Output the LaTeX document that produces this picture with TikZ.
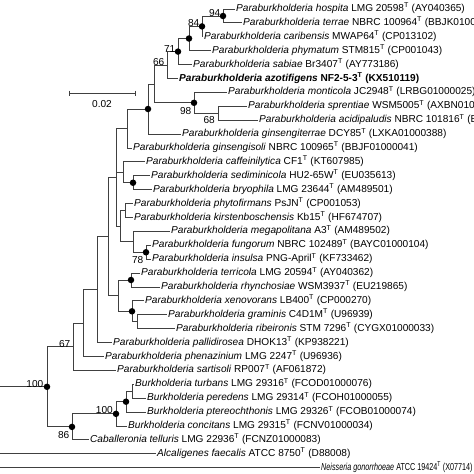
\documentclass[tikz,border=0pt]{standalone}
\usepackage{graphicx}
\usepackage{fontspec}
\setmainfont{Liberation Sans}
\newcommand{\typeT}{\textsuperscript{T}}
\begin{document}
\begin{tikzpicture}[x=1pt,y=-1pt,
  br/.style={draw=black!75,line width=0.9pt},
  dotn/.style={circle,fill=black,inner sep=0pt,minimum size=6.5pt},
  lf/.style={anchor=west,inner sep=1pt,text height=7.3pt,text depth=2.2pt,font=\fontsize{10.1}{12}\selectfont},
  bs/.style={inner sep=0pt,font=\fontsize{10.1}{12}\selectfont}]
\useasboundingbox (0,0) rectangle (474,474);
% internal nodes
\coordinate (n94) at (223,16);
\coordinate (n84) at (202,26.4);
\coordinate (n189) at (189,38.5);
\coordinate (n71) at (178,51.6);
\coordinate (n66) at (167,65);
\coordinate (n68) at (218,113.2);
\coordinate (n98) at (194,102.8);
\coordinate (nP) at (154,84);
\coordinate (nQ) at (148,109);
\coordinate (nR) at (127,128.5);
\coordinate (nH) at (133,182.75);
\coordinate (nG) at (123,172.3);
\coordinate (nU) at (125,210.5);
\coordinate (nX) at (146,252.25);
\coordinate (nW) at (133,241.8);
\coordinate (nT) at (120,226);
\coordinate (nS) at (116,177.25);
\coordinate (nY) at (131,280);
\coordinate (nAA) at (137,321.75);
\coordinate (nZ) at (132,311.3);
\coordinate (nF) at (118,295.7);
\coordinate (nE) at (108,236.5);
\coordinate (nD) at (97,289.5);
\coordinate (nC) at (83,323);
\coordinate (n67) at (73,346.7);
\coordinate (nB) at (132,391.25);
\coordinate (nA) at (126,401.7);
\coordinate (n100b) at (116,413.85);
\coordinate (n86) at (72,426.9);
\coordinate (n100) at (47,386.8);
\coordinate (root) at (0,386.8);
\coordinate (rootA) at (0,453.8);
\coordinate (rootN) at (0,467.7);
% leaves
\node[lf] (hospita) at (235,9.0) {\textit{Paraburkholderia hospita} LMG 20598\typeT{} (AY040365)};
\node[lf] (terrae) at (242,22.9) {\textit{Paraburkholderia terrae} NBRC 100964\typeT{} (BBJK01000001)};
\node[lf] (caribensis) at (203,36.8) {\textit{Paraburkholderia caribensis} MWAP64\typeT{} (CP013102)};
\node[lf] (phymatum) at (211,50.7) {\textit{Paraburkholderia phymatum} STM815\typeT{} (CP001043)};
\node[lf] (sabiae) at (192,64.6) {\textit{Paraburkholderia sabiae} Br3407\typeT{} (AY773186)};
\node[lf] (azotifigens) at (178,78.5) {\bfseries\textit{Paraburkholderia azotifigens} NF2-5-3\typeT{} (KX510119)};
\node[lf] (monticola) at (227,92.4) {\textit{Paraburkholderia monticola} JC2948\typeT{} (LRBG01000025)};
\node[lf] (sprentiae) at (247,106.3) {\textit{Paraburkholderia sprentiae} WSM5005\typeT{} (AXBN01000001)};
\node[lf] (acidipaludis) at (258,120.2) {\textit{Paraburkholderia acidipaludis} NBRC 101816\typeT{} (BBJK01000001)};
\node[lf] (ginsengiterrae) at (181,134.1) {\textit{Paraburkholderia ginsengiterrae} DCY85\typeT{} (LXKA01000388)};
\node[lf] (ginsengisoli) at (132,148.0) {\textit{Paraburkholderia ginsengisoli} NBRC 100965\typeT{} (BBJF01000041)};
\node[lf] (caffeinilytica) at (145,161.9) {\textit{Paraburkholderia caffeinilytica} CF1\typeT{} (KT607985)};
\node[lf] (sediminicola) at (150,175.8) {\textit{Paraburkholderia sediminicola} HU2-65W\typeT{} (EU035613)};
\node[lf] (bryophila) at (152,189.7) {\textit{Paraburkholderia bryophila} LMG 23644\typeT{} (AM489501)};
\node[lf] (phytofirmans) at (133,203.6) {\textit{Paraburkholderia phytofirmans} PsJN\typeT{} (CP001053)};
\node[lf] (kirstenboschensis) at (133,217.5) {\textit{Paraburkholderia kirstenboschensis} Kb15\typeT{} (HF674707)};
\node[lf] (megapolitana) at (170,231.4) {\textit{Paraburkholderia megapolitana} A3\typeT{} (AM489502)};
\node[lf] (fungorum) at (151,245.3) {\textit{Paraburkholderia fungorum} NBRC 102489\typeT{} (BAYC01000104)};
\node[lf] (insulsa) at (151,259.2) {\textit{Paraburkholderia insulsa} PNG-April\typeT{} (KF733462)};
\node[lf] (terricola) at (140,273.1) {\textit{Paraburkholderia terricola} LMG 20594\typeT{} (AY040362)};
\node[lf] (rhynchosiae) at (160,287.0) {\textit{Paraburkholderia rhynchosiae} WSM3937\typeT{} (EU219865)};
\node[lf] (xenovorans) at (144,300.9) {\textit{Paraburkholderia xenovorans} LB400\typeT{} (CP000270)};
\node[lf] (graminis) at (167,314.8) {\textit{Paraburkholderia graminis} C4D1M\typeT{} (U96939)};
\node[lf] (ribeironis) at (175,328.7) {\textit{Paraburkholderia ribeironis} STM 7296\typeT{} (CYGX01000033)};
\node[lf] (pallidirosea) at (112,342.6) {\textit{Paraburkholderia pallidirosea} DHOK13\typeT{} (KP938221)};
\node[lf] (phenazinium) at (104,356.5) {\textit{Paraburkholderia phenazinium} LMG 2247\typeT{} (U96936)};
\node[lf] (sartisoli) at (116,370.4) {\textit{Paraburkholderia sartisoli} RP007\typeT{} (AF061872)};
\node[lf] (turbans) at (134,384.3) {\textit{Burkholderia turbans} LMG 29316\typeT{} (FCOD01000076)};
\node[lf] (peredens) at (146,398.2) {\textit{Burkholderia peredens} LMG 29314\typeT{} (FCOH01000055)};
\node[lf] (ptereochthonis) at (146,412.1) {\textit{Burkholderia ptereochthonis} LMG 29326\typeT{} (FCOB01000074)};
\node[lf] (concitans) at (127,426.0) {\textit{Burkholderia concitans} LMG 29315\typeT{} (FCNV01000034)};
\node[lf] (telluris) at (89,439.9) {\textit{Caballeronia telluris} LMG 22936\typeT{} (FCNZ01000083)};
\node[lf] (alcaligenes) at (156,453.8) {\textit{Alcaligenes faecalis} ATCC 8750\typeT{} (D88008)};
\node[lf] (neisseria) at (320,467.7) {\scalebox{0.715}[1]{\textit{Neisseria gonorrhoeae} ATCC 19424\typeT{} (X07714)}};
% branches
\draw[br] (n94) |- (hospita); \draw[br] (n94) |- (terrae);
\draw[br] (n84) |- (n94); \draw[br] (n84) |- (caribensis);
\draw[br] (n189) |- (n84); \draw[br] (n189) |- (phymatum);
\draw[br] (n71) |- (n189); \draw[br] (n71) |- (sabiae);
\draw[br] (n66) |- (n71); \draw[br] (n66) |- (azotifigens);
\draw[br] (n68) |- (sprentiae); \draw[br] (n68) |- (acidipaludis);
\draw[br] (n98) |- (monticola); \draw[br] (n98) |- (n68);
\draw[br] (nP) |- (n66); \draw[br] (nP) |- (n98);
\draw[br] (nQ) |- (nP); \draw[br] (nQ) |- (ginsengiterrae);
\draw[br] (nR) |- (nQ); \draw[br] (nR) |- (ginsengisoli);
\draw[br] (nH) |- (sediminicola); \draw[br] (nH) |- (bryophila);
\draw[br] (nG) |- (caffeinilytica); \draw[br] (nG) |- (nH);
\draw[br] (nU) |- (phytofirmans); \draw[br] (nU) |- (kirstenboschensis);
\draw[br] (nX) |- (fungorum); \draw[br] (nX) |- (insulsa);
\draw[br] (nW) |- (megapolitana); \draw[br] (nW) |- (nX);
\draw[br] (nT) |- (nU); \draw[br] (nT) |- (nW);
\draw[br] (nS) |- (nR); \draw[br] (nS) |- (nG); \draw[br] (nS) |- (nT);
\draw[br] (nY) |- (terricola); \draw[br] (nY) |- (rhynchosiae);
\draw[br] (nAA) |- (graminis); \draw[br] (nAA) |- (ribeironis);
\draw[br] (nZ) |- (xenovorans); \draw[br] (nZ) |- (nAA);
\draw[br] (nF) |- (nY); \draw[br] (nF) |- (nZ);
\draw[br] (nE) |- (nS); \draw[br] (nE) |- (nF);
\draw[br] (nD) |- (nE); \draw[br] (nD) |- (pallidirosea);
\draw[br] (nC) |- (nD); \draw[br] (nC) |- (phenazinium);
\draw[br] (n67) |- (nC); \draw[br] (n67) |- (sartisoli);
\draw[br] (nB) |- (turbans); \draw[br] (nB) |- (peredens);
\draw[br] (nA) |- (nB); \draw[br] (nA) |- (ptereochthonis);
\draw[br] (n100b) |- (nA); \draw[br] (n100b) |- (concitans);
\draw[br] (n86) |- (n100b); \draw[br] (n86) |- (telluris);
\draw[br] (n100) |- (n67); \draw[br] (n100) |- (n86);
\draw[br] (root) -- (n100);
\draw[br] (rootA) -- (alcaligenes);
\draw[br] (rootN) -- (neisseria);
% support dots
\foreach \n in {n94,n84,n189,n71,n98,nQ,nH,nX,nY,nZ,nA,n100b,n86,n100}
  \node[dotn] (dot-\n) at (\n) {};
% bootstrap values
\node[bs,anchor=base east] (b94) at (220.5,16.5) {94};
\node[bs,anchor=base east] (b84) at (199.5,26.9) {84};
\node[bs,anchor=base east] (b71) at (175.5,52.1) {71};
\node[bs,anchor=base east] (b66) at (164.5,65.5) {66};
\node[bs,anchor=base east] (b98) at (191.5,114.6) {98};
\node[bs,anchor=base east] (b68) at (215,123.8) {68};
\node[bs,anchor=base east] (b78) at (143.5,263.6) {78};
\node[bs,anchor=base east] (b67) at (70.5,347) {67};
\node[bs,anchor=base east] (b100a) at (43.5,387.3) {100};
\node[bs,anchor=base east] (b100b) at (113,413.5) {100};
\node[bs,anchor=base east] (b86) at (69.5,438.6) {86};
% scale bar
\coordinate (sb1) at (69,93);
\coordinate (sb2) at (135,93);
\draw[br] (sb1) -- (sb2);
\draw[br] ([yshift=2.5pt]sb1) -- ([yshift=-2.5pt]sb1);
\draw[br] ([yshift=2.5pt]sb2) -- ([yshift=-2.5pt]sb2);
\node[bs] (sblabel) at (102,104) {0.02};
\end{tikzpicture}
\end{document}
